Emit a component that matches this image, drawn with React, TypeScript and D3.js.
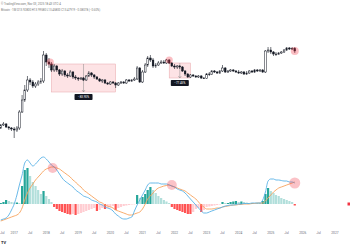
import React from 'react';
import * as d3 from 'd3';

const W = 350;
const H = 250;

// first monthly candle: Aug 2016
const START = new Date(2016, 7, 1);
const FIRST_OPEN = 22;
const closes = [
  25, 26, 23, 22, 21,
  20, 22, 38, 50, 60, 70, 68, 64, 66, 68, 69, 95,
  88, 86, 80, 84, 80, 76, 79, 75, 74, 78, 73, 72,
  71, 72, 70, 74, 77, 75, 73, 71, 69, 70, 67, 66,
  68, 67, 65, 67, 68, 67, 70, 69, 70, 71, 82, 68,
  78, 85, 92, 90, 84, 85, 87, 88, 87, 90, 87, 84,
  83, 84, 83, 79, 76, 73, 75, 74, 73, 74, 72, 71.5,
  76, 75.5, 79, 78, 77, 79, 82, 78, 79, 80, 79, 78,
  77, 78, 76, 77, 79, 78, 80, 79, 80, 78, 99, 100,
  98, 96, 95.5, 97, 98, 100, 102, 101, 101.5, 99,
];
const highs = [
  26, 28, 27, 24, 23,
  23, 24, 40, 55, 65, 74, 72, 70, 68, 70, 72, 99,
  97, 92, 88, 86, 85, 81, 81, 80, 77, 80, 79, 75,
  73, 73, 73, 75, 79, 78, 76, 74, 72, 71, 71, 68,
  69, 69, 68, 68, 69, 69, 71, 71, 71, 73, 84, 83,
  80, 87, 94, 95, 92, 87, 89, 90, 90, 91, 91, 88,
  86, 85, 85, 84, 80, 77, 76, 76, 75, 75, 75, 73,
  77, 78, 80, 80, 79, 80, 85, 83, 80, 81, 81, 80,
  80, 79, 79, 79, 80, 80, 81, 81, 81, 81, 100, 103,
  103, 99, 98, 98, 99, 101, 103, 103, 103, 103,
];
const lows = [
  21, 24, 22, 20, 19,
  12, 18, 20, 37, 48, 58, 65, 62, 62, 64, 66, 67,
  84, 82, 78, 78, 78, 74, 74, 73, 72, 73, 71, 70,
  69, 70, 69, 69, 73, 73, 71, 70, 68, 67, 66, 65,
  65, 66, 62, 64, 66, 66, 66, 68, 68, 69, 70, 67,
  67, 77, 83, 88, 82, 82, 84, 86, 86, 86, 86, 83,
  81, 81, 81, 78, 74, 72, 72, 73, 72, 72, 71, 71,
  71, 74, 75, 77, 76, 76, 78, 77, 77, 78, 78, 77,
  76, 76, 75, 75, 76, 77, 77, 78, 78, 77, 77, 97,
  96, 94, 94, 95, 96, 97, 99, 100, 100, 97,
];

const macdLine = [
  -16, -15, -14, -11, -6,
  0, 9, 19, 29, 41, 44, 41, 38, 40, 43, 46, 47,
  45, 42, 39, 37, 34, 30, 26, 23, 21, 19, 17, 14,
  12, 10, 8, 7, 6, 4, 3, 2, 0, -1, -3, -4,
  -5, -7, -10, -12, -14, -15, -15, -14, -13, -7, -1, 4,
  9, 14, 19, 21, 21, 21, 21, 20, 20, 20, 19, 18,
  17, 15, 14, 13, 11, 8, 5, 2, -1, -4, -7, -9,
  -9, -8, -7, -6, -5, -4, -3, -2, -1.5, -1, -1, -0.5,
  0, 0, 0.5, 0.5, 0.5, 1, 1, 1, 1, 4, 12, 23,
  25, 25, 24, 24, 23.5, 23, 23, 22, 22, 21,
];
const signalLine = [
  -17, -16, -15, -14, -13,
  -12, -11, -9, -4, 4, 11, 16, 20, 24, 27, 30, 33,
  35, 36, 37, 37, 36, 35, 33, 31, 29, 27, 24, 22,
  19, 17, 14, 12, 10, 8, 6, 4, 2, 1, -1, -2,
  -3, -4, -6, -7, -8, -9, -10, -11, -11, -10, -9, -8,
  -5, 0, 5, 8, 11, 14, 16, 17, 18, 18.5, 19, 18,
  17, 16, 15, 14, 13, 11, 9, 7, 5, 2, -1, -3,
  -5, -5, -5, -4.5, -4, -4, -3, -2.5, -2, -1.5, -1, -1,
  -0.5, -0.5, 0, 0, 0, 0.5, 0.5, 1, 1, 1, 3, 6,
  9, 12, 14, 16, 17, 18, 19, 20, 21, 22,
];
const histogram = [
  1, 2, 4, 3, 2,
  1.5, 1.5, 1, 18, 34, 36, 28, 22, 18, 14, 10, 13,
  8, 5, 2, -3, -5, -7, -8, -9, -10, -10.5, -10, -11,
  -10, -9, -8, -7, -6, -5, -4, -7, -6, -4, -5, -4,
  -3, -2, -6, -4, -3, -2, -1.5, -1, -0.5, -0.3, 9, 6,
  7, 10, 14, 17, 14, 11, 8, 6, 4, 2.5, 1, -3,
  -5, -6, -7, -8, -9, -10, -10, -8, -5, -4, -8, -6,
  -3, -2.5, -2, -1.5, -1, -0.5, 2, 1, 1, 2, 2.5, 3,
  2, 2.5, 2, 1.5, 1, 1, 0.5, 0.5, 0.5, 3, 10, 16,
  13, 11, 9, 8, 6, 5, 4, 3, 2, -1.5,
];

const tickLabels = [
  'Jul', '2017', 'Jul', '2018', 'Jul', '2019', 'Jul', '2020', 'Jul', '2021', 'Jul',
  '2022', 'Jul', '2023', 'Jul', '2024', 'Jul', '2025', 'Jul', '2026', 'Jul', '2027',
];
const TICK_START = new Date(2016, 6, 1);

// price-range drawings
const rangeStarts = [new Date(2018, 2, 1), new Date(2021, 10, 1)];
const rangeEnds = [new Date(2020, 2, 1), new Date(2022, 6, 1)];
const rangeTops = [86, 87];
const rangeBottoms = [58, 72];
const rangeLabels = ['\u221283.90%', '\u221277.45%'];

const priceMarks = [new Date(2018, 1, 15), new Date(2021, 10, 1), new Date(2025, 9, 1)];
const priceMarkValues = [88, 90, 99];
const macdMarks = [new Date(2018, 2, 15), new Date(2021, 11, 1), new Date(2025, 9, 1)];
const macdMarkValues = [36, 19, 21];

const headerLine1 = '\u00A9 TradingView.com, Nov 03, 2025 18:43 UTC-4';
const headerLine2 = 'Bitcoin \u00B7 1M  O13.92800  H13.99580  L13.45800  C13.47919  \u22120.08078 (\u22120.60%)';

export default function App() {
  const dates = closes.map((_, i) => d3.timeMonth.offset(START, i));
  const x = d3.scaleTime()
    .domain([new Date(2017, 0, 1), new Date(2027, 0, 1)])
    .range([14.2, 334.9]);
  const yP = d3.scaleLinear().domain([0, 130]).range([150, 20]);
  const yM = d3.scaleLinear().domain([-20, 50]).range([224, 154]);

  const opens = closes.map((_, i) => (i === 0 ? FIRST_OPEN : closes[i - 1]));
  const bw = 1.7;
  const ink = '#131722';

  const macdPath = d3.line<number>().x((_, i) => x(dates[i])).y((d) => yM(d)).curve(d3.curveMonotoneX)(macdLine) || '';
  const sigPath = d3.line<number>().x((_, i) => x(dates[i])).y((d) => yM(d)).curve(d3.curveMonotoneX)(signalLine) || '';

  const histColor = (v: number, i: number) => {
    const prev = i > 0 ? histogram[i - 1] : 0;
    if (v >= 0) return v >= prev ? '#26a69a' : '#b2dfdb';
    return v <= prev ? '#ff5252' : '#ffcdd2';
  };

  const ticks = tickLabels.map((t, i) => ({ t, d: d3.timeMonth.offset(TICK_START, i * 6) }));

  return (
    <svg width={W} height={H} style={{ position: 'absolute', left: 0, top: 0, background: '#fff' }}
      fontFamily="Roboto, 'Liberation Sans', sans-serif">
      <rect width={W} height={H} fill="#fff" />
      <text x={1} y={5} fontSize={2.9} fill="#777">{headerLine1}</text>
      <text x={1} y={11} fontSize={2.9} fill="#777">{headerLine2}</text>

      {rangeStarts.map((s, i) => {
        const x0 = x(s), x1 = x(rangeEnds[i]);
        const y0 = yP(rangeTops[i]), y1 = yP(rangeBottoms[i]);
        const xm = (x0 + x1) / 2;
        return (
          <g key={'r' + i}>
            <rect x={x0} y={y0} width={x1 - x0} height={y1 - y0} fill="#f23645" fillOpacity={0.14}
              stroke="#e8a5aa" strokeWidth={0.5} />
            <line x1={xm} x2={xm} y1={y0} y2={y1} stroke="#888" strokeWidth={0.5} />
            <path d={`M${xm - 1.5},${y1 - 2} L${xm},${y1} L${xm + 1.5},${y1 - 2}`} fill="none" stroke="#888" strokeWidth={0.5} />
          </g>
        );
      })}

      {closes.map((c, i) => {
        const cx = x(dates[i]);
        const o = opens[i];
        const up = c >= o;
        const top = yP(Math.max(o, c));
        const bot = yP(Math.min(o, c));
        return (
          <g key={'c' + i}>
            <line x1={cx} x2={cx} y1={yP(highs[i])} y2={yP(lows[i])} stroke={ink} strokeWidth={0.6} />
            <rect x={cx - bw / 2} y={top} width={bw} height={Math.max(0.6, bot - top)}
              fill={up ? '#fff' : ink} stroke={ink} strokeWidth={0.5} />
          </g>
        );
      })}

      {rangeStarts.map((s, i) => {
        const xm = (x(s) + x(rangeEnds[i])) / 2;
        const yl = yP(rangeBottoms[i]) + 5;
        return (
          <g key={'l' + i}>
            <rect x={xm - 9} y={yl - 3} width={18} height={6} rx={0.8} fill={ink} />
            <text x={xm} y={yl + 1} fontSize={2.9} fill="#fff" textAnchor="middle">{rangeLabels[i]}</text>
          </g>
        );
      })}

      {priceMarks.map((d, i) => (
        <circle key={'pm' + i} cx={x(d)} cy={yP(priceMarkValues[i])} r={i === 2 ? 4 : 3.6} fill="#f23645" fillOpacity={0.32} />
      ))}

      {histogram.map((v, i) => {
        const cx = x(dates[i]);
        const y0 = yM(0), y1 = yM(v);
        return (
          <rect key={'h' + i} x={cx - 1.1} width={2.2} y={Math.min(y0, y1)} height={Math.max(0.4, Math.abs(y1 - y0))}
            fill={histColor(v, i)} />
        );
      })}
      <path d={sigPath} fill="none" stroke="#f7a35c" strokeWidth={0.9} />
      <path d={macdPath} fill="none" stroke="#5ab2e6" strokeWidth={0.9} />
      {macdMarks.map((d, i) => (
        <circle key={'mm' + i} cx={x(d)} cy={yM(macdMarkValues[i])} r={i === 2 ? 5.5 : 5} fill="#f23645" fillOpacity={0.3} />
      ))}
      <rect x={347.5} y={yM(1.5)} width={3} height={3} fill="#f23645" />

      {ticks.map((t, i) => {
        const tx = x(t.d);
        const edge = tx < 4;
        return (
          <text key={'t' + i} x={edge ? 0.3 : tx} y={234} fontSize={3.2} fill="#6a6d78"
            textAnchor={edge ? 'start' : 'middle'}>{t.t}</text>
        );
      })}
      <text x={1} y={244} fontSize={4} fontWeight="bold" fill={ink}>TV</text>
    </svg>
  );
}
